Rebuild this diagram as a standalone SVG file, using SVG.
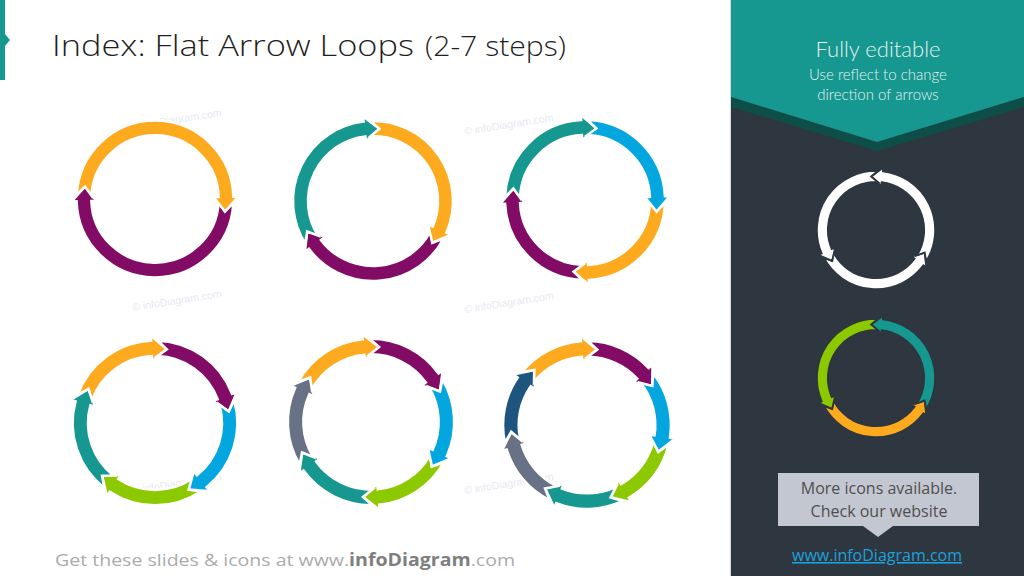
<svg xmlns="http://www.w3.org/2000/svg" width="1024" height="576" viewBox="0 0 1024 576">
<style>
.seg{stroke:#fff;stroke-width:2.5;stroke-linejoin:miter}
.dk{stroke:#2E3640;stroke-width:2.6}
.or{fill:#FEAA1E}.pu{fill:#820B65}.te{fill:#16978F}.bl{fill:#03A6DE}.gr{fill:#8DC900}.gy{fill:#687185}.nv{fill:#1D557E}.wh{fill:#FFFFFF}
.wm{font-family:'Liberation Sans',Arial,sans-serif;font-size:10.5px;fill:#E6E9F0}
.title{font-family:'Open Sans','Liberation Sans',sans-serif;font-weight:300;fill:#1F1F1F}
.pt{font-family:Lato,'Open Sans',sans-serif;font-weight:300;fill:#E2F2F0;text-anchor:middle}
.ct{font-family:'Open Sans','Liberation Sans',sans-serif;font-size:16px;fill:#4F4F4F;text-anchor:middle}
</style>
<defs>
<path id="s2" d="M80,0 L71.94,8.97 L65,0 A65,65 0 0 1 -64.78,5.37 L-59.79,4.96 L-71.94,-8.97 L-84.71,7.02 L-79.73,6.61 A80,80 0 0 0 80,0 Z"/>
<path id="s3" d="M80,0 L71.94,8.97 L65,0 A65,65 0 0 1 -27.74,58.79 L-25.60,54.26 L-43.74,57.82 L-36.27,76.87 L-34.14,72.35 A80,80 0 0 0 80,0 Z"/>
<path id="s4" d="M80,0 L71.94,8.97 L65,0 A65,65 0 0 1 5.37,64.78 L4.96,59.79 L-8.97,71.94 L7.02,84.71 L6.61,79.73 A80,80 0 0 0 80,0 Z"/>
<path id="s5" d="M80,0 L71.94,8.97 L65,0 A65,65 0 0 1 25.13,59.95 L23.19,55.34 L13.70,71.19 L32.86,78.39 L30.92,73.78 A80,80 0 0 0 80,0 Z"/>
<path id="s6" d="M80,0 L71.94,8.97 L65,0 A65,65 0 0 1 37.04,53.41 L34.19,49.31 L28.20,66.79 L48.44,69.85 L45.59,65.74 A80,80 0 0 0 80,0 Z"/>
<path id="s7" d="M80,0 L71.94,8.97 L65,0 A65,65 0 0 1 44.59,47.30 L41.16,43.66 L37.84,61.84 L58.31,61.85 L54.88,58.21 A80,80 0 0 0 80,0 Z"/>
</defs>

<rect x="0" y="0" width="1024" height="576" fill="#FFFFFF"/>

<!-- left marker -->
<g id="marker">
<rect x="0" y="0" width="5" height="80" fill="#16978F"/>
<polygon points="5,34 10,40 5,46" fill="#16978F"/>
</g>

<!-- title -->
<g id="title">
<text class="title" x="52" y="56" font-size="30" textLength="362" lengthAdjust="spacingAndGlyphs">Index: Flat Arrow Loops</text>
<text class="title" x="425" y="56" font-size="27" textLength="141" lengthAdjust="spacingAndGlyphs">(2-7 steps)</text>
</g>

<!-- watermarks -->
<g id="watermarks">
<text class="wm" transform="translate(133,130) rotate(-9)">© infoDiagram.com</text>
<text class="wm" transform="translate(465,135) rotate(-9)">© infoDiagram.com</text>
<text class="wm" transform="translate(133,311) rotate(-9)">© infoDiagram.com</text>
<text class="wm" transform="translate(465,313) rotate(-9)">© infoDiagram.com</text>
<text class="wm" transform="translate(133,494) rotate(-9)">© infoDiagram.com</text>
<text class="wm" transform="translate(465,494) rotate(-9)">© infoDiagram.com</text>
</g>

<!-- loops -->
<g id="loop-2" transform="translate(155,199) scale(0.98)">
<use href="#s2" class="seg pu" transform="rotate(3)"/>
<use href="#s2" class="seg or" transform="rotate(183)"/>
</g>
<g id="loop-3" transform="translate(373,201)">
<use href="#s3" class="seg pu" transform="rotate(28)"/>
<use href="#s3" class="seg te" transform="rotate(148)"/>
<use href="#s3" class="seg or" transform="rotate(268)"/>
</g>
<g id="loop-4" transform="translate(585,200)">
<use href="#s4" class="seg or" transform="rotate(2)"/>
<use href="#s4" class="seg pu" transform="rotate(92)"/>
<use href="#s4" class="seg te" transform="rotate(182)"/>
<use href="#s4" class="seg bl" transform="rotate(272)"/>
</g>
<g id="loop-5" transform="translate(155,423) scale(1.03)">
<use href="#s5" class="seg gr" transform="rotate(56)"/>
<use href="#s5" class="seg te" transform="rotate(128)"/>
<use href="#s5" class="seg or" transform="rotate(200)"/>
<use href="#s5" class="seg pu" transform="rotate(272)"/>
<use href="#s5" class="seg bl" transform="rotate(344)"/>
</g>
<g id="loop-6" transform="translate(371,422) scale(1.04)">
<use href="#s6" class="seg gr" transform="rotate(29)"/>
<use href="#s6" class="seg te" transform="rotate(89)"/>
<use href="#s6" class="seg gy" transform="rotate(149)"/>
<use href="#s6" class="seg or" transform="rotate(209)"/>
<use href="#s6" class="seg pu" transform="rotate(269)"/>
<use href="#s6" class="seg bl" transform="rotate(329)"/>
</g>
<g id="loop-7" transform="translate(587,425) scale(1.05)">
<use href="#s7" class="seg gr" transform="rotate(13.4)"/>
<use href="#s7" class="seg te" transform="rotate(64.8)"/>
<use href="#s7" class="seg gy" transform="rotate(116.3)"/>
<use href="#s7" class="seg nv" transform="rotate(167.7)"/>
<use href="#s7" class="seg or" transform="rotate(219.1)"/>
<use href="#s7" class="seg pu" transform="rotate(270.6)"/>
<use href="#s7" class="seg bl" transform="rotate(322)"/>
</g>

<!-- footer -->
<g id="footer">
<text x="55" y="566" font-family="'Open Sans','Liberation Sans',sans-serif" font-size="17" fill="#ABABAB" textLength="460" lengthAdjust="spacingAndGlyphs">Get these slides &amp; icons at www.<tspan font-weight="bold" fill="#7F7F7F">infoDiagram</tspan>.com</text>
</g>

<!-- right panel -->
<g id="panel">
<rect x="730" y="0" width="1" height="576" fill="#D9D9D9"/>
<rect x="731" y="0" width="293" height="576" fill="#2E3640"/>
<polygon points="731,97 877,142 1024,97 1024,107 877,151 731,107" fill="#0E4E49"/>
<polygon points="731,0 1024,0 1024,97 877,142 731,97" fill="#16978F"/>
<text class="pt" x="878" y="57" font-size="22">Fully editable</text>
<text class="pt" x="878" y="80" font-size="15">Use reflect to change</text>
<text class="pt" x="878" y="100" font-size="15">direction of arrows</text>
</g>

<g id="loop-white" transform="translate(876,230) scale(-0.74,0.74)">
<use href="#s3" class="dk wh" transform="rotate(28)"/>
<use href="#s3" class="dk wh" transform="rotate(148)"/>
<use href="#s3" class="dk wh" transform="rotate(268)"/>
</g>
<g id="loop-color" transform="translate(876,378) scale(-0.74,0.74)">
<use href="#s3" class="dk or" transform="rotate(28)"/>
<use href="#s3" class="dk te" transform="rotate(148)"/>
<use href="#s3" class="dk gr" transform="rotate(268)"/>
</g>

<g id="callout">
<path d="M778,473 H979 V526 H893 L878,537 L863,526 H778 Z" fill="#C3C7D1"/>
<text class="ct" x="879" y="494">More icons available.</text>
<text class="ct" x="879" y="517">Check our website</text>
</g>
<g id="link">
<text x="877" y="561" font-family="'Open Sans','Liberation Sans',sans-serif" font-size="16" fill="#1BA1DB" text-anchor="middle" text-decoration="underline">www.infoDiagram.com</text>
</g>
</svg>
